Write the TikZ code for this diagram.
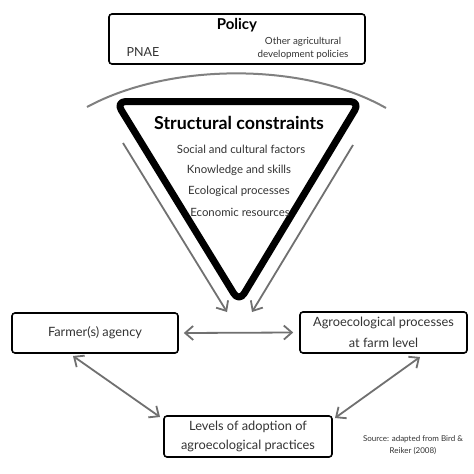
\documentclass[tikz,border=0pt]{standalone}
\usepackage{fontspec}
\setmainfont{Lato}
\usetikzlibrary{arrows.meta}
\definecolor{arrgray}{HTML}{707070}
\definecolor{arcgray}{HTML}{808080}
\definecolor{txtgray}{HTML}{333333}
\tikzset{
  box/.style={draw=black, line width=1.6pt, rounded corners=3pt, inner sep=0pt},
  barb/.tip={Straight Barb[length=8pt,width=14pt,line width=1.8pt]},
  conn/.style={draw=arrgray, line width=1.8pt, -barb},
  biconn/.style={draw=arrgray, line width=1.8pt, barb-barb},
  lbl/.style={inner sep=0pt, text=txtgray, align=center},
  item/.style={lbl, font=\fontsize{11.4}{14}\selectfont},
}
\begin{document}
\begin{tikzpicture}[x=1pt,y=-1pt]
\useasboundingbox[fill=white] (0,0) rectangle (474,474);
% Policy box
\node[box, minimum width=256pt, minimum height=50pt] (policy) at (237,39) {};
\node[lbl, text=black, font=\fontsize{15}{17}\selectfont\bfseries] (ptitle) at (237,25) {Policy};
\node[lbl, font=\fontsize{12.5}{14}\selectfont] (pnae) at (143,52) {PNAE};
\node[lbl, font=\fontsize{9.8}{13}\selectfont] (other) at (303,48) {Other agricultural\\development policies};
% arc
\coordinate (arcL) at (87,107);
\coordinate (arcR) at (386,108);
\draw[arcgray, line width=2pt] (arcL) .. controls (170,62) and (305,62) .. (arcR);
% triangle
\coordinate (tl) at (116,101.5);
\coordinate (tr) at (360,101.5);
\coordinate (tb) at (239,302);
\draw[black, line width=7pt, rounded corners=10pt, line join=round] (tb) -- (tl) -- (tr) -- cycle;
\node[lbl, text=black, font=\fontsize{17.8}{20}\selectfont\bfseries] (sc) at (239,123) {Structural constraints};
\node[item] (s1) at (241,149) {Social and cultural factors};
\node[item] (s2) at (239,170) {Knowledge and skills};
\node[item] (s3) at (239,191) {Ecological processes};
\node[item] (s4) at (240,212) {Economic resources};
% side arrows
\coordinate (la0) at (123,143);
\coordinate (la1) at (227,312);
\coordinate (ra0) at (353,145);
\coordinate (ra1) at (252,312);
\draw[conn] (la0) -- (la1);
\draw[conn] (ra0) -- (ra1);
% bottom boxes
\node[box, minimum width=166pt, minimum height=40pt] (farmer) at (95,333) {};
\node[lbl, font=\fontsize{12.8}{14}\selectfont] at (farmer) {Farmer(s) agency};
\node[box, minimum width=167pt, minimum height=41pt] (agro) at (383.5,332.5) {};
\node[lbl, font=\fontsize{12.8}{21}\selectfont] at (agro) {Agroecological processes\\at farm level};
\node[box, minimum width=168pt, minimum height=41pt] (levels) at (248,436.5) {};
\node[lbl, font=\fontsize{12.8}{19}\selectfont] at (levels) {Levels of adoption of\\agroecological practices};
\node[lbl, font=\fontsize{8}{12}\selectfont] (src) at (413,445) {Source: adapted from Bird \&\\Reiker (2008)};
% connectors
\coordinate (fa1) at (73,356);
\coordinate (le1) at (160,417);
\coordinate (ag1) at (420,357);
\coordinate (le2) at (335,418);
\draw[biconn] ([xshift=5pt]farmer.east) -- ([xshift=-6pt]agro.west);
\draw[biconn] (fa1) -- (le1);
\draw[biconn] (ag1) -- (le2);
\end{tikzpicture}
\end{document}
